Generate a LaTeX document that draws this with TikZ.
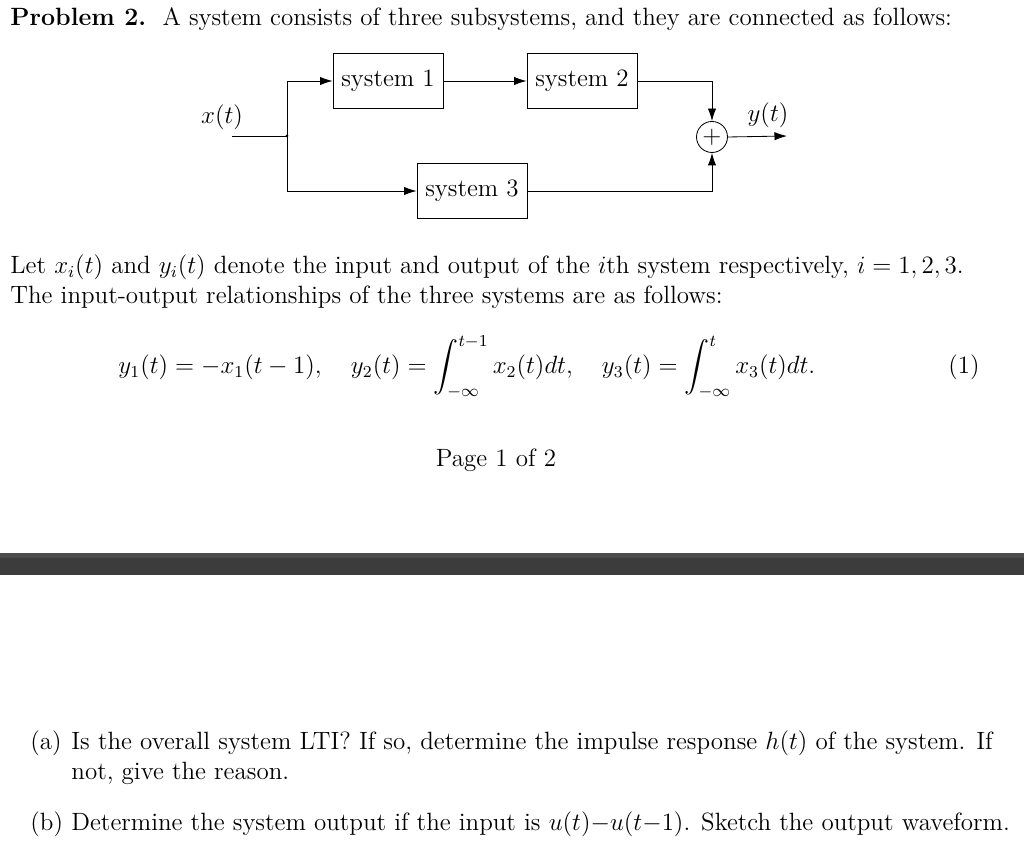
\documentclass[tikz,border=0pt]{standalone}
\usepackage{amsmath}
\begin{document}
\begin{tikzpicture}[x=0.48pt,y=-0.48pt,
  every node/.style={font=\fontsize{12}{14.5}\selectfont, inner sep=0pt},
  blk/.style={draw, minimum width=110*0.48pt, minimum height=55*0.48pt, anchor=center},
  arr/.style={-{Latex[length=6pt,width=4pt]}},
  txt/.style={anchor=base west}]
\usetikzlibrary{arrows.meta}
\useasboundingbox (0,0) rectangle (1024,854);
\node[txt] (l0) at (10,26) {\textbf{Problem 2.}\ \ A system consists of three subsystems, and they are connected as follows:};
% diagram
\node[blk] (s1) at (388,81) {system 1};
\node[blk] (s2) at (582,81) {system 2};
\node[blk] (s3) at (472,191) {system 3};
\node[draw,circle,minimum size=31*0.48pt] (sum) at (712,137) {$+$};
\coordinate (in) at (232,136);
\coordinate (sp) at (287,136);
\coordinate (out) at (787,136);
\node[anchor=base] (xl) at (222,124) {$x(t)$};
\node[anchor=base] (yl) at (768,122) {$y(t)$};
\fill (sp) circle (1.5);
\draw (in) -- (sp);
\draw[arr] (sp) |- (s1.west);
\draw[arr] (sp) |- (s3.west);
\draw[arr] (s1.east) -- (s2.west);
\draw[arr] (s2.east) -| (sum.north);
\draw[arr] (s3.east) -| (sum.south);
\draw[arr] (sum.east) -- (out);
% text
\node[txt] (l1) at (10,274) {Let $x_i(t)$ and $y_i(t)$ denote the input and output of the $i$th system respectively, $i=1,2,3$.};
\node[txt] (l2) at (10,304) {The input-output relationships of the three systems are as follows:};
\node[txt] (eq) at (118,374) {$\displaystyle y_1(t)=-x_1(t-1),\quad y_2(t)=\int_{-\infty}^{t-1}x_2(t)dt,\quad y_3(t)=\int_{-\infty}^{t}x_3(t)dt.$};
\node[anchor=base east] (en) at (980,374) {(1)};
\node[anchor=base] (pg) at (496,467) {Page 1 of 2};
\fill[black!70!gray!90] (0,553) rectangle (1024,575);
\fill[gray!60!black] (0,553) rectangle (1024,558);
\node[txt] (a1) at (30,750) {(a)};
\node[txt] (a2) at (71,750) {Is the overall system LTI? If so, determine the impulse response $h(t)$ of the system. If};
\node[txt] (a3) at (71,780) {not, give the reason.};
\node[txt] (b1) at (30,831) {(b)};
\node[txt] (b2) at (71,831) {Determine the system output if the input is $u(t){-}u(t{-}1)$. Sketch the output waveform.};
\end{tikzpicture}
\end{document}
